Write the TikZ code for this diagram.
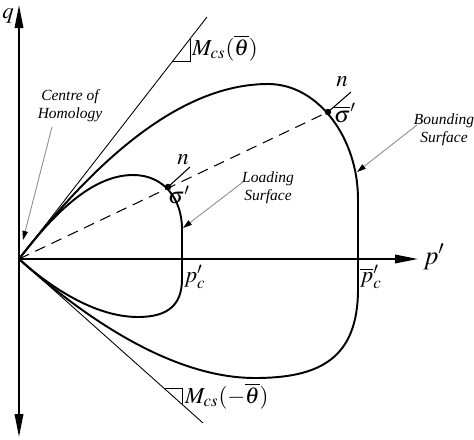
\documentclass[tikz,border=0pt]{standalone}
\usepackage{amsmath}
\usepackage{mathptmx}
\usepackage{fontspec}
\setmainfont{Liberation Serif}
\usetikzlibrary{arrows.meta,positioning,calc}
\definecolor{pointcolor}{RGB}{140,140,140}
\def\dotsize{1.3mm}
\tikzset{
  axis/.style    = {-{Triangle[length=4.6mm,width=1.7mm]}, line width=1.1pt},
  surf/.style    = {line width=1.1pt},
  csline/.style  = {line width=0.5pt},
  normal/.style  = {line width=0.6pt},
  radial/.style  = {dashed, dash pattern=on 2.2mm off 1.4mm, line width=0.6pt},
  dot/.style     = {circle, fill=black, minimum size=\dotsize, inner sep=0pt},
  note/.style    = {font=\fontsize{8.8}{10.2}\selectfont\itshape, align=center},
  symb/.style    = {font=\fontsize{13}{15}\selectfont, inner sep=1pt},
  pointer/.style = {-{Triangle[length=1.8mm,width=1.1mm,color=black]},
                    draw=pointcolor, line width=0.5pt}
}
\begin{document}
\begin{tikzpicture}[x=0.2mm,y=0.2mm]
\useasboundingbox (-19,-180) rectangle (455,259);

% --- axes ---
\coordinate (O) at (0,0);
\coordinate (qtop) at (0,254);
\coordinate (qbot) at (0,-178);
\coordinate (pend) at (399,0);
\draw[axis] (O) -- (qtop);
\draw[axis] (O) -- (qbot);
\draw[axis] (O) -- (pend);
\node[symb] (qlab) at (-11,243) {$\boldsymbol{q}$};
\node[symb, font=\fontsize{15}{17}\selectfont] (plab) at (415,2) {$p'$};

% --- critical state lines ---
\coordinate (mtop) at (188,242);
\coordinate (mbot) at (184,-164);
\draw[csline] (O) -- (mtop);
\draw[csline] (O) -- (mbot);
\draw[csline] (154,198) -- (171,198) -- (171,220);
\draw[csline] (145,-129) -- (163,-129) -- (163,-145);
\node[symb, anchor=west] (mtoplab) at (171,211) {$M_{cs}(\overline{\theta})$};
\node[symb, anchor=west] (mbotlab) at (164,-137) {$M_{cs}(-\overline{\theta})$};

% --- bounding surface ---
\draw[surf] (O) .. controls (60,77) and (150,175) .. (249,175)
  .. controls (300,175) and (339,120) .. (339,60) -- (339,-30)
  .. controls (339,-100) and (300,-119) .. (236,-119)
  .. controls (150,-119) and (60,-54) .. (O);

% --- loading surface ---
\draw[surf] (O) .. controls (30,39) and (70,84) .. (114,84)
  .. controls (145,84) and (163,60) .. (163,30) -- (163,-20)
  .. controls (163,-45) and (150,-58) .. (119,-58)
  .. controls (75,-58) and (30,-27) .. (O);

% --- stress points and normals ---
\node[dot] (sig) at (149,72) {};
\node[dot] (sigb) at (309,147) {};
\draw[radial] (O) -- (sigb);
\coordinate (nsig) at (171,92);
\coordinate (nsigb) at (332,167);
\draw[normal] (sig.center) -- (nsig);
\draw[normal] (sigb.center) -- (nsigb);
\node[symb] (nlab) at (164,99) {$n$};
\node[symb] (nblab) at (323,177) {$n$};
\node[symb] (siglab) at (160,64) {$\sigma'$};
\node[symb] (sigblab) at (326,146) {$\overline{\sigma}'$};
\node[symb, anchor=north west] (pclab) at (163,-4) {$p_c'$};
\node[symb, anchor=north west] (pcblab) at (339,-4) {$\overline{p}_c'$};

% --- notes ---
\node[note] (centre) at (51,153) {Centre of\\Homology};
\node[note] (loading) at (249,71) {Loading\\Surface};
\node[note] (bounding) at (425,129) {Bounding\\Surface};
\coordinate (centret) at (4,19);
\coordinate (loadingt) at (164,31);
\coordinate (boundingt) at (338,87);
\draw[pointer] (33,132) -- (centret);
\draw[pointer] (224,77) -- (loadingt);
\draw[pointer] (398,134) -- (boundingt);

\end{tikzpicture}
\end{document}
